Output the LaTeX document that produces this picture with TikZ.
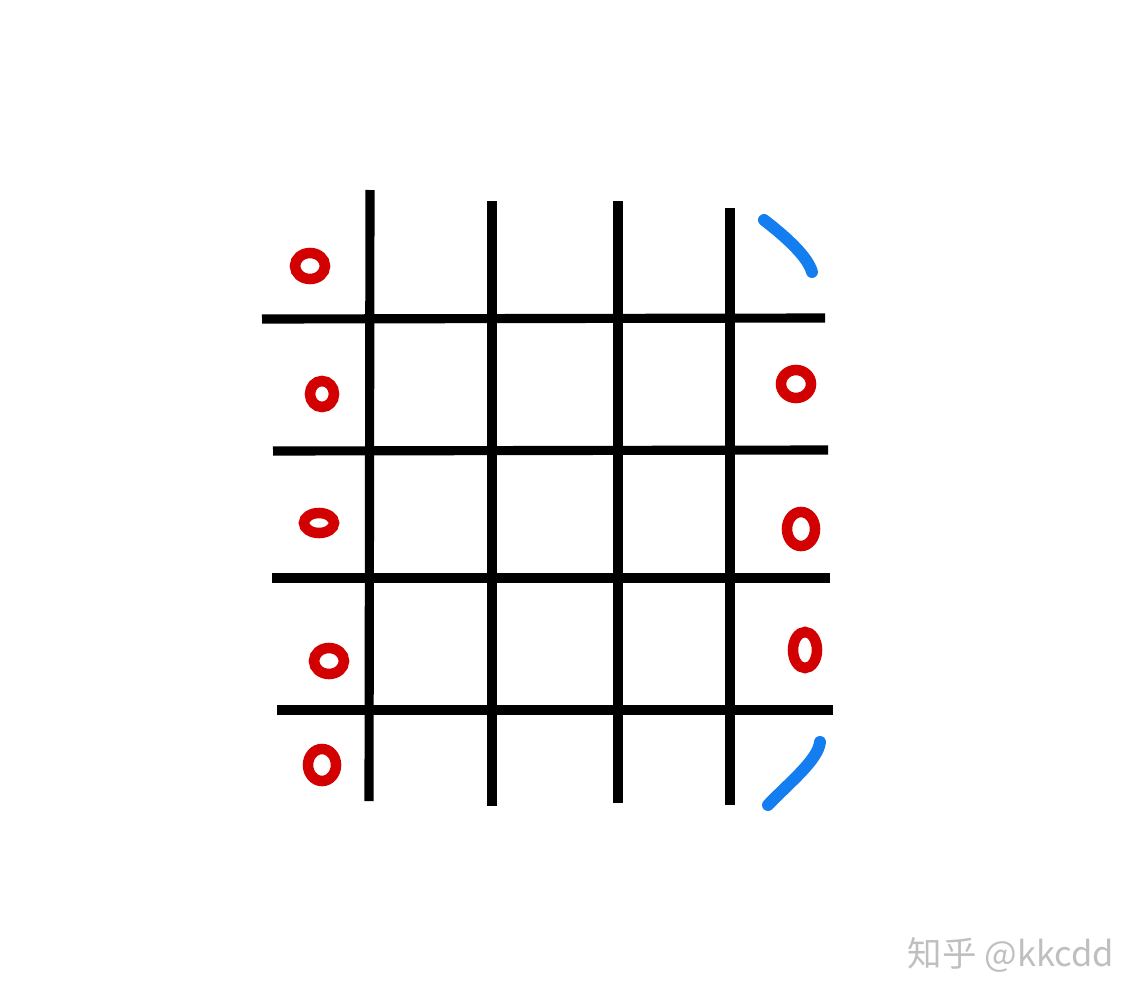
\documentclass[tikz,border=0pt]{standalone}
\usepackage{fontspec}
\newfontfamily\cjk{Noto Sans CJK SC}
\definecolor{markred}{RGB}{210,0,0}
\definecolor{markblue}{RGB}{20,125,240}
\begin{document}
\begin{tikzpicture}[x=0.01cm, y=-0.01cm,
    gridline/.style={black, line width=2.6pt},
    ring/.style={markred, line width=3pt},
    stroke/.style={markblue, line width=3.4pt, line cap=round}]

    % Canvas
    \useasboundingbox (0, 0) rectangle (1142, 1000);

    % Vertical lines
    \draw[gridline] (370, 190) -- (369, 801);
    \draw[gridline] (492, 201) -- (492, 806);
    \draw[gridline] (618, 201) -- (618, 803);
    \draw[gridline] (730, 208) -- (730, 805);

    % Horizontal lines
    \draw[gridline] (262, 319) -- (825, 318);
    \draw[gridline] (273, 451) -- (828, 450);
    \draw[gridline] (272, 578) -- (830, 578);
    \draw[gridline] (277, 710) -- (833, 710);

    % Circles, left column
    \draw[ring] (310, 266) ellipse (15 and 13);
    \draw[ring] (322, 394) ellipse (12 and 13);
    \draw[ring] (319, 523) ellipse (15 and 10);
    \draw[ring] (329, 661) ellipse (15 and 13);
    \draw[ring] (322, 765) ellipse (14 and 16);

    % Circles, right column
    \draw[ring] (796, 384) ellipse (15 and 14);
    \draw[ring] (801, 529) ellipse (14 and 17);
    \draw[ring] (805, 650) ellipse (12 and 18);

    % Corner strokes
    \draw[stroke] (764, 220) .. controls (790, 240) and (808, 258) .. (812, 272);
    \draw[stroke] (768, 805) .. controls (790, 782) and (818, 760) .. (820, 742);

    % Watermark
    \node[gray!50, font=\cjk\fontsize{9.8}{12}\selectfont, anchor=center] (mark) at (1011, 955) {知乎 @kkcdd};

\end{tikzpicture}
\end{document}
